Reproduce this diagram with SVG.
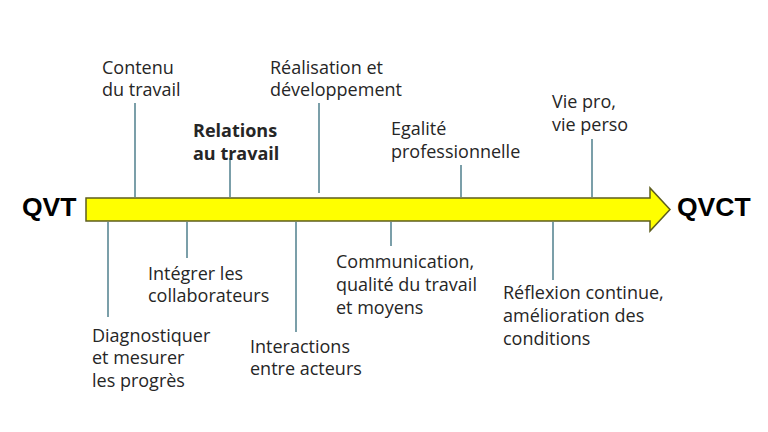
<svg xmlns="http://www.w3.org/2000/svg" width="768" height="432" viewBox="0 0 768 432">
<style>
.t{font-family:"Open Sans","Liberation Sans",sans-serif;font-size:18px;fill:#262626}
.b{font-weight:bold}
.end{font-family:"Liberation Sans",Arial,sans-serif;font-size:26.5px;font-weight:bold;fill:#000}
.tick{stroke:#4f7f8c;stroke-width:1.5;fill:none}
</style>
<rect width="768" height="432" fill="#fff"/>
<g id="arrow">
<path d="M86,198 H650 V188 L670,209.5 L650,231 V221 H86 Z" fill="#ffff00" stroke="#5e5e1e" stroke-width="1.5" stroke-linejoin="miter"/>
</g>
<g id="qvt"><text class="end" x="22" y="216">QVT</text></g>
<g id="qvct"><text class="end" x="677" y="216">QVCT</text></g>
<g id="connectors">
<line class="tick" x1="135" y1="103" x2="135" y2="197"/>
<line class="tick" x1="230" y1="158" x2="230" y2="197"/>
<line class="tick" x1="319" y1="103" x2="319" y2="193"/>
<line class="tick" x1="461" y1="165" x2="461" y2="197"/>
<line class="tick" x1="592" y1="139" x2="592" y2="197"/>
<line class="tick" x1="108" y1="222" x2="108" y2="317"/>
<line class="tick" x1="187" y1="222" x2="187" y2="258"/>
<line class="tick" x1="296" y1="222" x2="296" y2="332"/>
<line class="tick" x1="391" y1="222" x2="391" y2="246"/>
<line class="tick" x1="553" y1="222" x2="553" y2="280"/>
</g>
<g id="contenu"><text class="t" x="102" y="74">Contenu</text><text class="t" x="102" y="96">du travail</text></g>
<g id="realisation"><text class="t" x="270" y="74">Réalisation et</text><text class="t" x="270" y="96">développement</text></g>
<g id="relations"><text class="t b" x="193" y="137">Relations</text><text class="t b" x="193" y="160">au travail</text></g>
<g id="egalite"><text class="t" x="391" y="135">Egalité</text><text class="t" x="391" y="158">professionnelle</text></g>
<g id="viepro"><text class="t" x="552" y="108">Vie pro,</text><text class="t" x="552" y="131">vie perso</text></g>
<g id="integrer"><text class="t" x="148" y="280">Intégrer les</text><text class="t" x="148" y="302">collaborateurs</text></g>
<g id="diagnostiquer"><text class="t" x="92" y="342">Diagnostiquer</text><text class="t" x="92" y="364">et mesurer</text><text class="t" x="92" y="387">les progrès</text></g>
<g id="interactions"><text class="t" x="250" y="353">Interactions</text><text class="t" x="250" y="375">entre acteurs</text></g>
<g id="communication"><text class="t" x="336" y="268">Communication,</text><text class="t" x="336" y="291">qualité du travail</text><text class="t" x="336" y="314">et moyens</text></g>
<g id="reflexion"><text class="t" x="503" y="299">Réflexion continue,</text><text class="t" x="503" y="322">amélioration des</text><text class="t" x="503" y="345">conditions</text></g>
</svg>
